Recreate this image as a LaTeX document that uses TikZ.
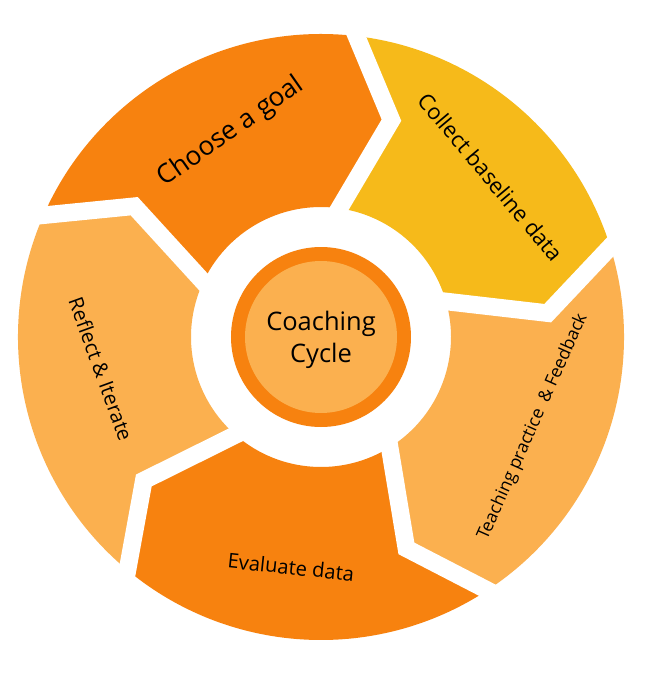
\documentclass[tikz,border=0pt]{standalone}
\usepackage{fontspec}
\setmainfont{Open Sans}
\definecolor{dk}{HTML}{F7820F}
\definecolor{yl}{HTML}{F6BA1A}
\definecolor{lt}{HTML}{FBB04F}
\tikzset{lbl/.style={font=\fontsize{#1}{#1}\selectfont,text=black}}
\newcommand{\seg}[3]{% A B colour
 \fill[#3] (#1:303) arc[start angle=#1,end angle=#2,radius=303] -- (#2-13:228) -- (#2:130)
   arc[start angle=#2,end angle=#1,radius=130] -- (#1-13:228) -- cycle;}
\newcommand{\gap}[1]{\draw[white,line width=10pt,line join=miter] (#1:320) -- (#1-13:228) -- (#1:115);}
\begin{document}
\begin{tikzpicture}[x=0.02cm,y=0.02cm]
\useasboundingbox[fill=white] (-321,-343) rectangle (324,337);
\seg{158}{85}{dk}
\seg{85}{19}{yl}
\seg{19}{-55}{lt}
\seg{-55}{-128}{dk}
\seg{232}{158}{lt}
\foreach \a in {158,85,19,-55,-128}{\gap{\a}}
\fill[dk] (0,0) circle (90);
\fill[lt] (0,0) circle (76);
\node[lbl=14.5pt,align=center] (c) at (0,-3) {Coaching\\[4pt]Cycle};
\node[lbl=15pt,rotate=35] (g) at (-90,205) {Choose a goal};
\node[lbl=12.5pt,rotate=-50] (b) at (170,160) {Collect baseline data};
\node[lbl=10pt,rotate=66] (t) at (212,-90) {Teaching practice \ \& Feedback};
\node[lbl=11.5pt,rotate=-6] (e) at (-30,-230) {Evaluate data};
\node[lbl=11.5pt,rotate=-70] (r) at (-220,-32) {Reflect \& Iterate};
\end{tikzpicture}
\end{document}
